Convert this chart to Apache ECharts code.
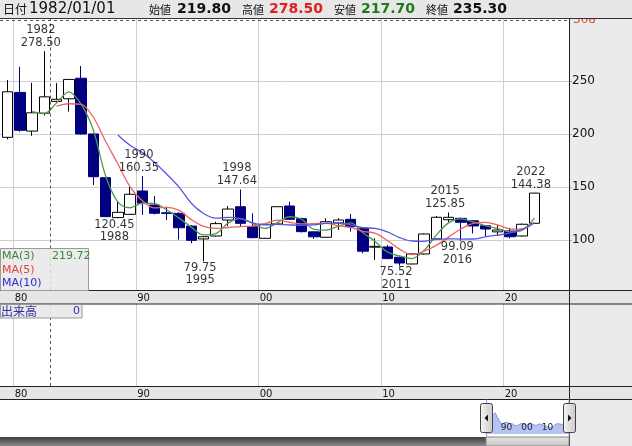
<!DOCTYPE html>
<html><head><meta charset="utf-8">
<script src="https://cdn.jsdelivr.net/npm/echarts@6/dist/echarts.min.js"></script>
<style>html,body{margin:0;padding:0;background:#fff}#c{width:632px;height:446px}</style>
</head><body><div id="c"></div>
<script>
// ---- data (yearly candles) ----
const years  = [1979,1980,1981,1982,1983,1984,1985,1986,1987,1988,1989,1990,1991,1992,1993,1994,1995,1996,1997,1998,1999,2000,2001,2002,2003,2004,2005,2006,2007,2008,2009,2010,2011,2012,2013,2014,2015,2016,2017,2018,2019,2020,2021,2022];
const opens  = [197.0,239.5,202.9,219.8,231.0,233.5,252.9,200.2,158.8,121.0,124.1,146.2,132.9,125.5,125.0,113.0,100.8,103.6,118.7,131.3,112.4,101.4,115.0,132.0,120.0,107.5,102.4,116.0,119.4,111.0,93.0,93.2,83.5,77.1,86.6,100.8,119.0,120.3,118.0,113.3,107.5,108.3,103.6,115.6];
const closes = [240.1,203.66,220.2,235.3,233.0,251.8,200.2,159.7,121.9,126.0,143.1,134.6,125.1,125.0,111.4,99.5,102.9,115.3,129.1,115.6,102.0,114.7,131.3,119.4,107.7,102.8,117.1,118.7,112.4,89.2,93.8,82.2,78.0,86.6,105.5,121.3,121.3,116.6,113.1,110.2,109.3,102.9,114.7,144.2];
const lows   = [195.1,202.3,198.5,217.7,230.5,221.3,199.5,151.9,121.5,120.45,123.8,123.5,124.0,118.7,100.2,96.7,79.75,103.0,113.0,112.4,101.5,101.0,114.5,119.0,107.0,100.8,102.0,109.3,107.7,87.2,81.0,81.5,75.52,76.8,86.0,100.5,117.0,99.09,106.0,103.0,103.6,101.4,103.0,115.0];
const highs  = [251.2,263.8,248.6,278.5,248.3,252.0,264.5,200.5,159.0,136.1,150.3,160.35,141.5,131.3,126.0,114.0,103.5,117.1,132.0,147.64,125.1,115.2,131.8,136.0,121.0,108.0,120.3,120.3,124.4,111.5,101.4,95.1,84.0,87.0,106.0,122.5,125.85,121.0,118.5,113.8,114.0,111.4,115.5,144.38];
const decadeTicks = [1980,1990,2000,2010,2020];
const miniTicks   = [1980,1990,2000,2010];
const priceTicks  = [100,150,200,250];
const highMarks = [1982,1990,1998,2015,2022];
const lowMarks  = [1988,1995,2011,2016];
const maPeriods = [3,5,10];
const maColors  = ['#4f9a4f','#f06262','#5555e6'];
const maTextColors = ['#3b863b','#e83c3c','#2b2bd0'];
const cursorYear = 1982;     // header / legend readout
const cursorX = 1983.0;      // crosshair position on time axis
const cursorPrice = 308;     // crosshair price

const mid = y => y + 0.5;
const idx = y => years.indexOf(y);
function movingAverage(n) {
  const out = [];
  for (let i = n - 1; i < closes.length; i++) {
    let s = 0;
    for (let k = i - n + 1; k <= i; k++) s += closes[k];
    out.push([mid(years[i]), s / n]);
  }
  return out;
}
const maData = maPeriods.map(movingAverage);
const maAt = (n, y) => { const d = maData[maPeriods.indexOf(n)].find(p => p[0] === mid(y)); return d ? d[1].toFixed(2) : ''; };

const F = 'DejaVu Sans';
const CJK = '"Noto Sans CJK JP"';
const ci = idx(cursorYear);

const chart = echarts.init(document.getElementById('c'), null, {renderer: 'canvas'});

const decadeFmt = v => String(v % 100).padStart(2, '0');
function timeAxis(gi) {
  return {
    gridIndex: gi, type: 'value', min: 1978.882, max: 2025.33,
    axisLine: {show: false},
    axisTick: {show: false, customValues: decadeTicks},
    axisLabel: {customValues: decadeTicks, formatter: decadeFmt, fontFamily: F, fontSize: 10, color: '#111', align: 'left', margin: 3, padding: [0,0,0,1]},
    splitLine: {show: true, lineStyle: {color: '#cfcfcf', width: 1}}
  };
}

const hdr = (text, x, font, fill) => ({type: 'text', z: 101, style: {text, x, y: 9.5, font, fill, align: 'left', verticalAlign: 'middle', textAlign: 'left', textVerticalAlign: 'middle'}});
const txt = (text, x, y, font, fill, align, z) => ({type: 'text', z: z || 51, style: {text, x, y, font, fill, align: align || 'left', verticalAlign: 'middle', textAlign: align || 'left', textVerticalAlign: 'middle'}});
const line = (x1, y1, x2, y2, stroke, z) => ({type: 'line', z: z || 40, shape: {x1, y1, x2, y2}, style: {stroke, lineWidth: 1}});

const option = {
  animation: false,
  backgroundColor: '#fff',
  grid: [
    {left: 0, top: 19, width: 569, height: 271.5},
    {left: 0, top: 304, width: 569, height: 82},
    {left: 484, top: 403, width: 85, height: 31}
  ],
  xAxis: [
    timeAxis(0),
    timeAxis(1),
    {gridIndex: 2, type: 'value', min: 1979, max: 2020.5, z: 10,
     axisLine: {show: false}, axisTick: {show: false, customValues: miniTicks},
     axisLabel: {customValues: miniTicks, inside: true, formatter: decadeFmt, fontFamily: F, fontSize: 9, color: '#222', margin: 2},
     splitLine: {show: false}}
  ],
  yAxis: [
    {gridIndex: 0, type: 'value', position: 'right', min: 52, max: 309,
     axisLine: {show: true, lineStyle: {color: '#222'}},
     axisTick: {show: true, length: 3, lineStyle: {color: '#aaa'}, customValues: priceTicks},
     axisLabel: {customValues: priceTicks, fontFamily: F, fontSize: 12, color: '#111', margin: 3},
     splitLine: {show: true, lineStyle: {color: '#cfcfcf'}}},
    {gridIndex: 1, type: 'value', position: 'right', min: 0, max: 1,
     axisLine: {show: true, lineStyle: {color: '#222'}}, axisTick: {show: false}, axisLabel: {show: false}, splitLine: {show: false}},
    {gridIndex: 2, type: 'value', min: 0, max: 370, show: false}
  ],
  series: [
    {
      type: 'candlestick', xAxisIndex: 0, yAxisIndex: 0, barWidth: 11,
      itemStyle: {color: '#ffffff', color0: '#000080', borderColor: '#000000', borderColor0: '#000080', borderWidth: 1},
      data: years.map((y, i) => [mid(y), opens[i], closes[i], lows[i], highs[i]]),
      markLine: {
        symbol: 'none', silent: true, animation: false,
        lineStyle: {type: [3, 3], color: '#555', width: 1},
        label: {show: false},
        data: [
          {xAxis: cursorX},
          {yAxis: cursorPrice, label: {show: true, position: 'end', formatter: String(cursorPrice), color: '#e8452c', fontFamily: F, fontSize: 12, distance: 4}}
        ]
      }
    },
    ...maPeriods.map((n, k) => ({
      type: 'line', xAxisIndex: 0, yAxisIndex: 0, data: maData[k], showSymbol: false, smooth: 0.35,
      lineStyle: {color: maColors[k], width: 1.3}, z: 3
    })),
    {
      type: 'scatter', xAxisIndex: 0, yAxisIndex: 0, symbolSize: 0, z: 5,
      data: highMarks.map(y => [mid(y), highs[idx(y)], y]),
      label: {show: true, position: 'top', distance: 2, offset: [-3.5, 0], fontFamily: F, fontSize: 11.5, lineHeight: 12.7, color: '#000',
              formatter: p => p.value[2] + '\n' + p.value[1].toFixed(2)}
    },
    {
      type: 'scatter', xAxisIndex: 0, yAxisIndex: 0, symbolSize: 0, z: 5,
      data: lowMarks.map(y => [mid(y), lows[idx(y)], y]),
      label: {show: true, position: 'bottom', distance: 0, offset: [-3.5, 0], fontFamily: F, fontSize: 11.5, lineHeight: 12.7, color: '#000',
              formatter: p => p.value[1].toFixed(2) + '\n' + p.value[2]}
    },
    {
      type: 'line', xAxisIndex: 1, yAxisIndex: 1, data: [], showSymbol: false,
      markLine: {symbol: 'none', silent: true, animation: false, label: {show: false},
                 lineStyle: {type: [3, 3], color: '#555', width: 1}, data: [{xAxis: cursorX}]}
    },
    {
      type: 'line', xAxisIndex: 2, yAxisIndex: 2, data: years.map((y, i) => [mid(y), closes[i]]), z: 1,
      showSymbol: false, clip: true, lineStyle: {color: '#8797e2', width: 1}, areaStyle: {color: '#b7c3f3', opacity: 1}
    }
  ],
  graphic: {elements: [
    // background panels
    {type: 'rect', z: -10, shape: {x: 569, y: 19, width: 63, height: 427}, style: {fill: '#ebebeb'}},
    {type: 'rect', z: -9, shape: {x: 0, y: 290.5, width: 632, height: 13.5}, style: {fill: '#e6e6e6'}},
    {type: 'rect', z: -9, shape: {x: 0, y: 386, width: 632, height: 13}, style: {fill: '#e6e6e6'}},
    // borders
    line(0, 290.5, 632, 290.5, '#222'), line(0, 304, 632, 304, '#222'),
    line(0, 386.5, 632, 386.5, '#222'), line(0, 399.5, 632, 399.5, '#222'),
    line(569.5, 19, 569.5, 446, '#222'),
    // bottom scroll bar
    {type: 'rect', z: 40, shape: {x: 0, y: 437, width: 486, height: 9},
     style: {fill: new echarts.graphic.LinearGradient(0, 0, 0, 1, [{offset: 0, color: '#3f3f3f'}, {offset: 1, color: '#8a8a8a'}])}},
    {type: 'rect', z: 40, shape: {x: 486, y: 437, width: 83, height: 9},
     style: {fill: new echarts.graphic.LinearGradient(0, 0, 0, 1, [{offset: 0, color: '#e4e4e4'}, {offset: 1, color: '#c4c4c4'}]), stroke: '#888', lineWidth: 1}},
    line(486.5, 399.5, 486.5, 437, '#8fa2e8', 55), line(569, 399.5, 569, 437, '#8fa2e8', 55),
    // handles
    {type: 'rect', z: 60, shape: {x: 480.5, y: 403.5, width: 12, height: 29, r: 2},
     style: {fill: new echarts.graphic.LinearGradient(0, 0, 1, 0, [{offset: 0, color: '#f6f6f6'}, {offset: 1, color: '#c9c9c9'}]), stroke: '#444', lineWidth: 1}},
    {type: 'polygon', z: 61, shape: {points: [[488, 414.5], [488, 421.5], [484.5, 418]]}, style: {fill: '#111'}},
    {type: 'rect', z: 60, shape: {x: 563.5, y: 403.5, width: 12, height: 29, r: 2},
     style: {fill: new echarts.graphic.LinearGradient(0, 0, 1, 0, [{offset: 0, color: '#f6f6f6'}, {offset: 1, color: '#c9c9c9'}]), stroke: '#444', lineWidth: 1}},
    {type: 'polygon', z: 61, shape: {points: [[568, 414.5], [568, 421.5], [571.5, 418]]}, style: {fill: '#111'}},
    // header
    {type: 'rect', z: 100, shape: {x: 0, y: 0, width: 632, height: 18.5}, style: {fill: '#e7e7e7'}},
    line(0, 18.5, 632, 18.5, '#333', 101),
    hdr('日付', 3, '12px ' + CJK, '#111'),
    hdr(cursorYear + '/01/01', 29, '15px ' + F, '#111'),
    hdr('始値', 149, '11px ' + CJK, '#111'),
    hdr(opens[ci].toFixed(2), 177, 'bold 14px ' + F, '#111'),
    hdr('高値', 242, '11px ' + CJK, '#111'),
    hdr(highs[ci].toFixed(2), 269, 'bold 14px ' + F, '#e02020'),
    hdr('安値', 334, '11px ' + CJK, '#111'),
    hdr(lows[ci].toFixed(2), 361, 'bold 14px ' + F, '#1f7a1f'),
    hdr('終値', 426, '11px ' + CJK, '#111'),
    hdr(closes[ci].toFixed(2), 453, 'bold 14px ' + F, '#111'),
    // MA legend box
    {type: 'rect', z: 50, shape: {x: 0.5, y: 248.5, width: 88, height: 42}, style: {fill: 'rgba(232,232,232,0.85)', stroke: '#999', lineWidth: 1}},
    txt('MA(3)', 2, 256, '11px ' + F, maTextColors[0]),
    txt(maAt(3, cursorYear), 52, 256, '11px ' + F, maTextColors[0]),
    txt('MA(5)', 2, 270, '11px ' + F, maTextColors[1]),
    txt('MA(10)', 2, 283.5, '11px ' + F, maTextColors[2]),
    // volume label box
    {type: 'rect', z: 50, shape: {x: 0.5, y: 304.5, width: 81.5, height: 13.5}, style: {fill: 'rgba(232,232,232,0.9)', stroke: '#999', lineWidth: 1}},
    txt('出来高', 1, 311.5, '12px ' + CJK, '#2e2e9e'),
    txt('0', 80, 311.5, '11px ' + F, '#2e2e9e', 'right')
  ]}
};
chart.setOption(option);
</script></body></html>
